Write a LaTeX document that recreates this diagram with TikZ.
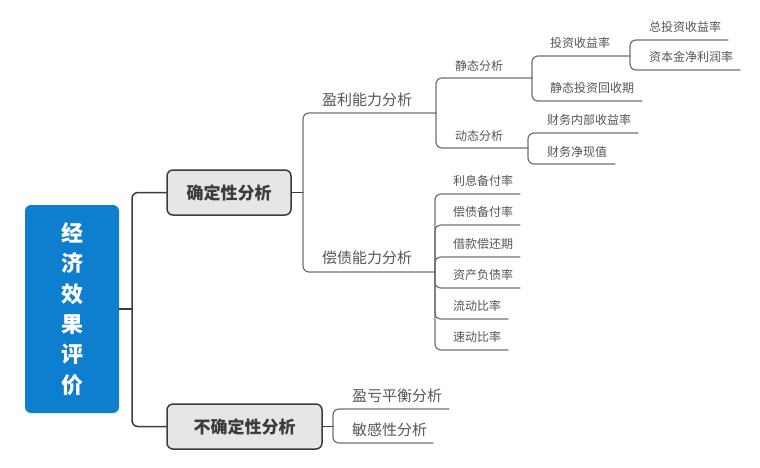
\documentclass[tikz,border=0pt]{standalone}
\usepackage{fontspec}
\setmainfont{Noto Sans CJK SC}
\definecolor{EvalBlue}{HTML}{0E7FCF}
\definecolor{EvalBox}{HTML}{E6E6E6}
\definecolor{EvalDark}{HTML}{3C3C3C}
\definecolor{EvalLine}{HTML}{707070}
\definecolor{EvalText}{HTML}{555555}

\begin{document}
\begin{tikzpicture}[x=1pt,y=-1pt,line cap=round,line join=round,
  root/.style={fill=EvalBlue,text=white,rounded corners=6pt,minimum width=94pt,minimum height=208pt,
    align=center,font=\fontsize{22}{30.4}\selectfont\bfseries},
  topbox/.style={fill=EvalBox,draw=EvalDark,line width=1.5pt,rounded corners=6pt,minimum height=45pt,
    text=EvalDark,font=\fontsize{17}{20}\selectfont\bfseries},
  midtext/.style={anchor=west,text=EvalText,inner sep=0pt,font=\fontsize{15}{18}\selectfont},
  leaf/.style={anchor=west,text=EvalText,inner sep=0pt,font=\fontsize{12}{14}\selectfont},
  main/.style={draw=EvalDark,line width=1.5pt,rounded corners=6pt},
  sub/.style={draw=EvalLine,line width=1.2pt,rounded corners=6pt}]
  \useasboundingbox (0,0) rectangle (760,467);

  % root and first level
  \node[root] (root) at (72,309) {经\\济\\效\\果\\评\\价};
  \node[topbox,minimum width=124pt] (qd) at (229,192.5) {确定性分析};
  \node[topbox,minimum width=155pt] (bq) at (244.5,426.5) {不确定性分析};
  \coordinate (rb) at (132,309);
  \coordinate (qd-j) at (303,192.5);
  \coordinate (bq-j) at (333,426.5);
  \draw[main] (root.east) -- (rb);
  \draw[main] (rb) |- (qd.west);
  \draw[main] (rb) |- (bq.west);
  \draw[main] (qd.east) -- (qd-j);
  \draw[main] (bq.east) -- (bq-j);

  % 确定性分析
  \node[midtext] (yl) at (322,100) {盈利能力分析};
  \node[midtext] (cz) at (322,258) {偿债能力分析};
  \coordinate (yl-e) at (436,113);
  \coordinate (cz-e) at (435,272);
  \draw[sub] (qd-j) |- (yl-e);
  \draw[sub] (qd-j) |- (cz-e);

  % 盈利能力分析
  \node[leaf] (jt) at (455,66) {静态分析};
  \node[leaf] (dt) at (455,136) {动态分析};
  \coordinate (jt-e) at (532,78);
  \coordinate (dt-e) at (528,148);
  \draw[sub] (yl-e) |- (jt-e);
  \draw[sub] (yl-e) |- (dt-e);

  \node[leaf] (tz) at (550,43) {投资收益率};
  \node[leaf] (jh) at (550,88) {静态投资回收期};
  \coordinate (tz-e) at (630,56);
  \coordinate (jh-e) at (642,101);
  \draw[sub] (jt-e) |- (tz-e);
  \draw[sub] (jt-e) |- (jh-e);

  \node[leaf] (zt) at (649,27) {总投资收益率};
  \node[leaf] (zb) at (649,57) {资本金净利润率};
  \coordinate (zt-e) at (728,40);
  \coordinate (zb-e) at (740,70);
  \draw[sub] (tz-e) |- (zt-e);
  \draw[sub] (tz-e) |- (zb-e);

  \node[leaf] (cn) at (547,120) {财务内部收益率};
  \node[leaf] (cj) at (547,152) {财务净现值};
  \coordinate (cn-e) at (638,133);
  \coordinate (cj-e) at (615,164);
  \draw[sub] (dt-e) |- (cn-e);
  \draw[sub] (dt-e) |- (cj-e);

  % 偿债能力分析
  \node[leaf] (lx) at (453,181) {利息备付率};
  \node[leaf] (cb) at (453,212) {偿债备付率};
  \node[leaf] (jk) at (453,244) {借款偿还期};
  \node[leaf] (zc) at (453,275) {资产负债率};
  \node[leaf] (ld) at (453,306) {流动比率};
  \node[leaf] (sd) at (453,337) {速动比率};
  \coordinate (lx-e) at (520,194);
  \coordinate (cb-e) at (520,225);
  \coordinate (jk-e) at (520,257);
  \coordinate (zc-e) at (520,288);
  \coordinate (ld-e) at (508,319);
  \coordinate (sd-e) at (508,350);
  \foreach \k in {lx,cb,jk,zc,ld,sd}
    \draw[sub] (cz-e) |- (\k-e);

  % 不确定性分析
  \node[midtext] (yk) at (352,396) {盈亏平衡分析};
  \node[midtext] (mg) at (352,430) {敏感性分析};
  \coordinate (yk-e) at (449,409);
  \coordinate (mg-e) at (433,443);
  \draw[sub] (bq-j) |- (yk-e);
  \draw[sub] (bq-j) |- (mg-e);
\end{tikzpicture}
\end{document}
